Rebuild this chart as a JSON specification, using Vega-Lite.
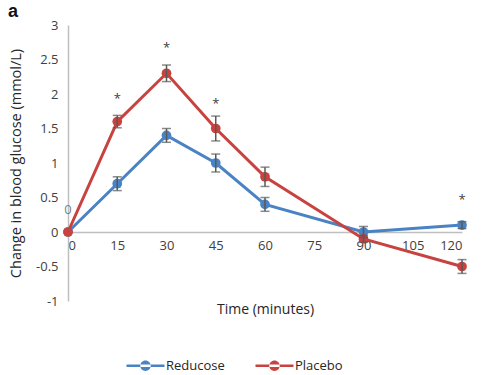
{
  "$schema": "https://vega.github.io/schema/vega-lite/v6.json",
  "width": 394,
  "height": 276,
  "autosize": {"type": "none"},
  "padding": {"left": 68, "top": 25, "right": 40, "bottom": 74},
  "background": "white",
  "title": {"text": "a", "anchor": "start", "frame": "group", "dx": -60, "offset": -2, "fontSize": 18, "fontWeight": "bold", "font": "Liberation Sans", "color": "#111"},
  "config": {
    "view": {"stroke": null},
    "font": "Open Sans",
    "axis": {"labelFont": "Open Sans", "titleFont": "Open Sans", "labelColor": "#404040", "titleColor": "#262626", "titleFontWeight": "normal", "labelFontSize": 13, "titleFontSize": 14, "grid": false, "ticks": false, "domainColor": "#bfbfbf", "domainWidth": 1.5, "labelOverlap": false}
  },
  "datasets": {
    "glucose": [
      {"time": 0, "series": "Reducose", "value": 0, "err": 0},
      {"time": 15, "series": "Reducose", "value": 0.7, "err": 0.1},
      {"time": 30, "series": "Reducose", "value": 1.4, "err": 0.1},
      {"time": 45, "series": "Reducose", "value": 1.0, "err": 0.13},
      {"time": 60, "series": "Reducose", "value": 0.4, "err": 0.1},
      {"time": 90, "series": "Reducose", "value": 0.0, "err": 0.08},
      {"time": 120, "series": "Reducose", "value": 0.1, "err": 0.05},
      {"time": 0, "series": "Placebo", "value": 0, "err": 0},
      {"time": 15, "series": "Placebo", "value": 1.6, "err": 0.09},
      {"time": 30, "series": "Placebo", "value": 2.3, "err": 0.12},
      {"time": 45, "series": "Placebo", "value": 1.5, "err": 0.18},
      {"time": 60, "series": "Placebo", "value": 0.8, "err": 0.14},
      {"time": 90, "series": "Placebo", "value": -0.1, "err": 0.05},
      {"time": 120, "series": "Placebo", "value": -0.5, "err": 0.1}
    ],
    "stars": [
      {"time": 15, "value": 1.93, "label": "*"},
      {"time": 30, "value": 2.66, "label": "*"},
      {"time": 45, "value": 1.86, "label": "*"},
      {"time": 120, "value": 0.47, "label": "*"}
    ],
    "stray": [
      {"time": 0, "value": 0.32, "label": "0"}
    ]
  },
  "layer": [
    {
      "data": {"name": "glucose"},
      "mark": {"type": "line", "strokeWidth": 3},
      "encoding": {
        "x": {"field": "time", "type": "quantitative", "scale": {"domain": [0, 120], "nice": false}, "axis": {"values": [0, 15, 30, 45, 60, 75, 90, 105, 120], "offset": -69, "labelPadding": 7, "title": "Time (minutes)", "titlePadding": 50}},
        "y": {"field": "value", "type": "quantitative", "scale": {"domain": [-1, 3], "nice": false}, "axis": {"tickCount": 8, "labelExpr": "toString(datum.value)", "labelOverlap": false, "labelPadding": 10, "title": "Change in blood glucose (mmol/L)", "titlePadding": 12, "titleFontSize": 14.5}},
        "color": {"field": "series", "type": "nominal", "scale": {"domain": ["Reducose", "Placebo"], "range": ["#4a83c4", "#c8423f"]},
          "legend": {"title": null, "orient": "none", "direction": "horizontal", "legendX": 68, "legendY": 331, "labelFont": "Open Sans", "labelFontSize": 13, "labelColor": "#262626", "symbolType": "M-2,-0.14L2,-0.14L2,0.14L-2,0.14Z M-0.55,0A0.55,0.55 0 1,0 0.55,0A0.55,0.55 0 1,0 -0.55,0Z", "symbolSize": 361, "symbolStrokeWidth": 0, "labelOffset": 11, "columnPadding": 30}},
        "order": {"field": "time", "type": "quantitative"}
      }
    },
    {
      "data": {"name": "glucose"},
      "mark": {"type": "point", "filled": true, "size": 95, "opacity": 1},
      "encoding": {
        "x": {"field": "time", "type": "quantitative"},
        "y": {"field": "value", "type": "quantitative"},
        "color": {"field": "series", "type": "nominal"}
      }
    },
    {
      "data": {"name": "glucose"},
      "transform": [{"filter": "datum.err > 0"}],
      "mark": {"type": "errorbar", "ticks": {"size": 9, "color": "#595959", "thickness": 1.5}, "rule": {"color": "#595959", "strokeWidth": 1.5}},
      "encoding": {
        "x": {"field": "time", "type": "quantitative"},
        "y": {"field": "value", "type": "quantitative", "title": "Change in blood glucose (mmol/L)"},
        "yError": {"field": "err"}
      }
    },
    {
      "data": {"name": "stars"},
      "mark": {"type": "text", "fontSize": 13, "color": "#404040", "font": "Open Sans"},
      "encoding": {
        "x": {"field": "time", "type": "quantitative"},
        "y": {"field": "value", "type": "quantitative"},
        "text": {"field": "label"}
      }
    },
    {
      "data": {"name": "stray"},
      "mark": {"type": "text", "fontSize": 13, "color": "#7f7f7f", "font": "Open Sans"},
      "encoding": {
        "x": {"field": "time", "type": "quantitative"},
        "y": {"field": "value", "type": "quantitative"},
        "text": {"field": "label"}
      }
    }
  ]
}
